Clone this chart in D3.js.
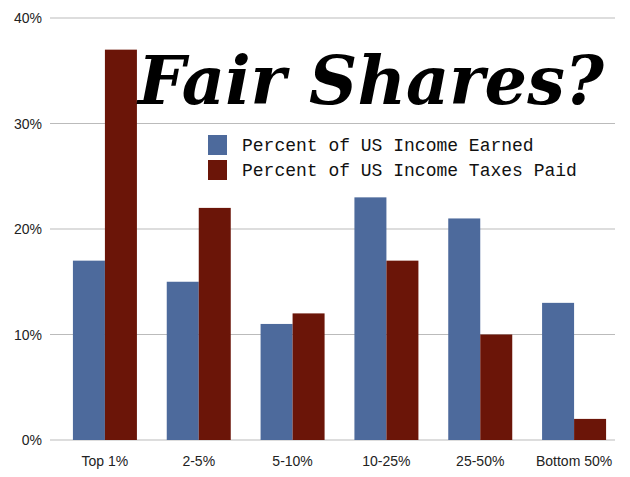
<!DOCTYPE html><html><head><script src="https://cdn.jsdelivr.net/npm/d3@7"></script>
<style>body{margin:0;background:#fff}</style></head><body><svg id="c" width="630" height="477"></svg>
<script>
const categories=["Top 1%","2-5%","5-10%","10-25%","25-50%","Bottom 50%"];
const incomeEarned=[17,15,11,23,21,13];
const taxesPaid=[37,22,12,17,10,2];
const seriesNames=["Percent of US Income Earned","Percent of US Income Taxes Paid"];
const yTicks=[0,10,20,30,40];
const colors=["#4d6a9c","#6b1508"];
const svg=d3.select("#c");
const y=d3.scaleLinear().domain([0,40]).range([440,18]);
const x=d3.scaleBand().domain(categories).range([58,621]);
const inner=d3.scaleBand().domain([0,1]).range([0,64]);
svg.append("g").selectAll("line").data(yTicks).join("line")
 .attr("x1",50).attr("x2",615).attr("y1",d=>y(d)).attr("y2",d=>y(d))
 .attr("stroke","#bbb").attr("stroke-width",1);
svg.append("g").selectAll("text").data(yTicks).join("text")
 .attr("x",42).attr("y",d=>y(d)+5).attr("text-anchor","end")
 .attr("font-family","Liberation Sans, Arial").attr("font-size",14).attr("fill","#222").text(d=>d+"%");
const data=categories.map((c,i)=>({c,v:[incomeEarned[i],taxesPaid[i]]}));
const g=svg.append("g").selectAll("g").data(data).join("g")
 .attr("transform",d=>`translate(${x(d.c)+x.bandwidth()/2-32},0)`);
g.selectAll("rect").data(d=>d.v).join("rect")
 .attr("x",(d,i)=>inner(i)).attr("width",inner.bandwidth())
 .attr("y",d=>y(d)).attr("height",d=>y(0)-y(d)).attr("fill",(d,i)=>colors[i]);
svg.append("g").selectAll("text").data(categories).join("text")
 .attr("x",d=>x(d)+x.bandwidth()/2).attr("y",466).attr("text-anchor","middle")
 .attr("font-family","Liberation Sans, Arial").attr("font-size",14).attr("fill","#222").text(d=>d);
svg.append("text").attr("x",138).attr("y",104).attr("textLength",466).attr("lengthAdjust","spacingAndGlyphs")
 .attr("font-family","DejaVu Serif, serif").attr("font-weight","bold").attr("font-style","italic")
 .attr("font-size",68).attr("fill","#000").text("Fair Shares?");
const lg=svg.append("g").selectAll("g").data(seriesNames).join("g")
 .attr("transform",(d,i)=>`translate(208,${135+i*25})`);
lg.append("rect").attr("width",19).attr("height",20).attr("fill",(d,i)=>colors[i]);
lg.append("text").attr("x",34).attr("y",16).attr("font-family","Courier New, Liberation Mono, monospace")
 .attr("font-size",18).attr("fill","#111").text(d=>d);
</script></body></html>
